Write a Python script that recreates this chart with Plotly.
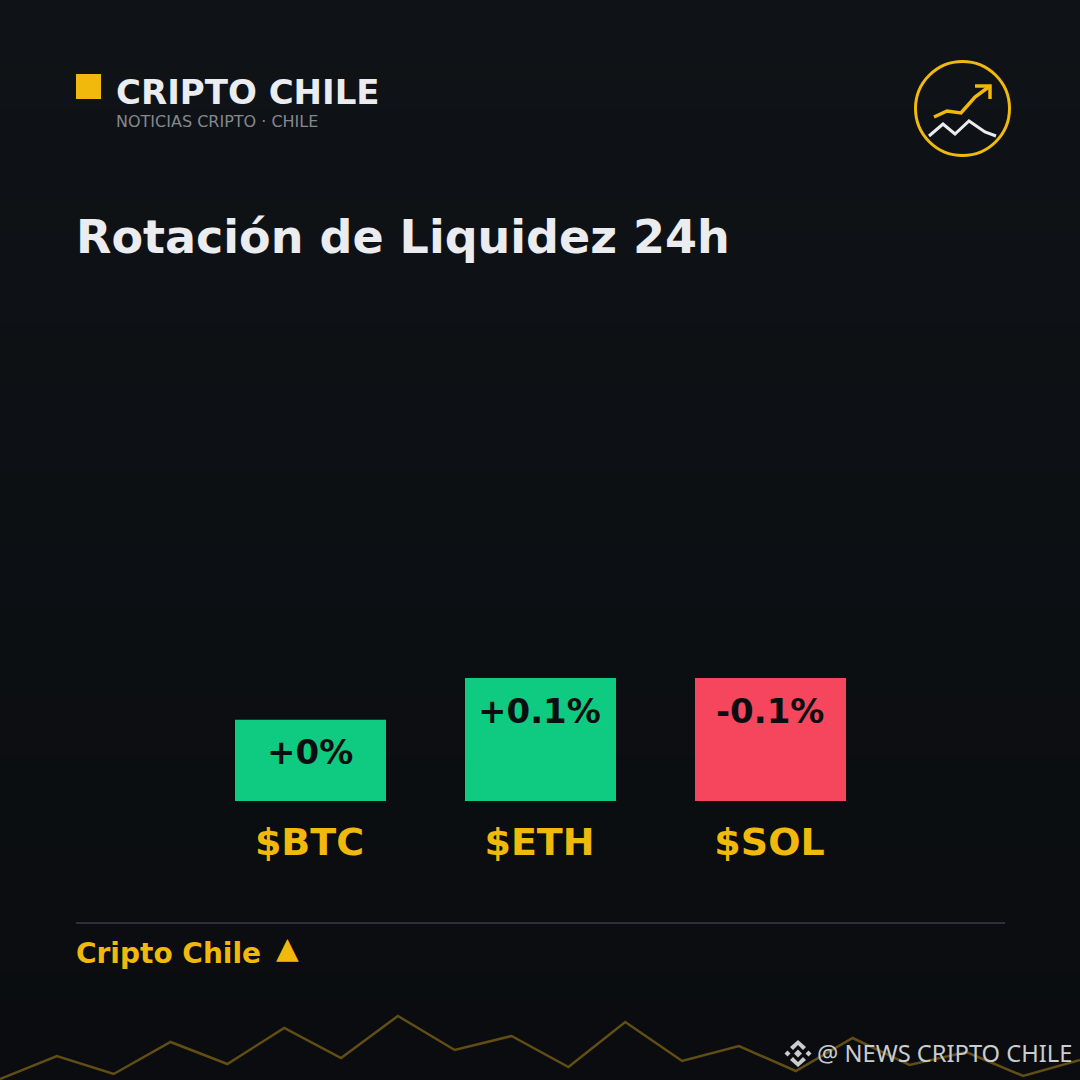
import plotly.graph_objects as go

W = 1080
H = 1080

# bars
tickers = ["$BTC", "$ETH", "$SOL"]
heights = [0.066, 0.1, 0.1]
changes = ["+0%", "+0.1%", "-0.1%"]
bar_colors = ["#0ecb81", "#0ecb81", "#f6465d"]

# line along the bottom edge
wave_index = list(range(20))
wave_values = [1, 24, 6, 38, 16, 52, 22, 64, 30, 44, 13, 58, 19, 34, 9, 42, 15, 28, 4, 20]

# background, top to bottom
bg_levels = [0, 1]
bg_scale = [[0, "#0a0c0f"], [1, "#0f1317"]]

GOLD = "#f0b90b"
DARK = "#0b0e11"
WHITE = "#eaecef"
MARK = "#c9ccd0"


def px(x):
    return x / W


def py(y):
    return 1 - y / H


def label(x, y, text, size, color, bold=False, family="DejaVu Sans", anchor="left"):
    fig.add_annotation(
        xref="paper", yref="paper", x=px(x), y=py(y), text=f"<b>{text}</b>" if bold else text,
        showarrow=False, xanchor=anchor, yanchor="middle", borderpad=0, borderwidth=0,
        font=dict(family=family, size=size, color=color),
    )


def poly(points, color, width):
    path = "M " + " L ".join(f"{px(x)} {py(y)}" for x, y in points)
    fig.add_shape(type="path", xref="paper", yref="paper", path=path,
                  line=dict(color=color, width=width), layer="above")


def solid(points, color):
    path = "M " + " L ".join(f"{px(x)} {py(y)}" for x, y in points) + " Z"
    fig.add_shape(type="path", xref="paper", yref="paper", path=path,
                  fillcolor=color, line=dict(width=0), layer="above")


fig = go.Figure()

# Background gradient
fig.add_trace(go.Heatmap(
    x=[0, 1], y=bg_levels, z=[[0, 0], [1, 1]], colorscale=bg_scale, showscale=False,
    zsmooth="best", hoverinfo="skip",
))

# Bottom wave
fig.add_trace(go.Scatter(
    x=wave_index, y=wave_values, mode="lines", xaxis="x2", yaxis="y2",
    line=dict(color="#624e14", width=2.5), hoverinfo="skip",
))

# Bars
fig.add_trace(go.Bar(
    x=tickers, y=heights, width=151 / 230, marker=dict(color=bar_colors, line=dict(width=0)),
    xaxis="x3", yaxis="y3", hoverinfo="skip",
))

fig.update_layout(
    width=W, height=H, margin=dict(l=0, r=0, t=0, b=0), showlegend=False,
    paper_bgcolor=DARK, plot_bgcolor="rgba(0,0,0,0)",
    xaxis=dict(domain=[0, 1], range=[0, 1], visible=False),
    yaxis=dict(domain=[0, 1], range=[0, 1], visible=False),
    xaxis2=dict(domain=[0, 1], range=[0, 19], visible=False, anchor="y2"),
    yaxis2=dict(domain=[0, 1], range=[0, H], visible=False, anchor="x2"),
    xaxis3=dict(
        domain=[px(194.5), px(884.5)], range=[-0.5, 2.5], type="category", showgrid=False, zeroline=False,
        ticks="outside", ticklen=7, tickcolor="rgba(0,0,0,0)", showline=False, anchor="y3",
        tickfont=dict(family="DejaVu Sans", size=38, color=GOLD),
        tickprefix="<b>", ticksuffix="</b>",
    ),
    yaxis3=dict(domain=[py(801), py(201)], range=[0, 0.1 * 600 / 123], visible=False, anchor="x3"),
)
# Bars sit one pixel right of the label column
fig.data[2].offset = -151 / 460 + 1 / 230

# Value labels sit inside the bars, near the top
for ticker, height, change in zip(tickers, heights, changes):
    fig.add_annotation(
        xref="x3", yref="y3", x=ticker, y=height, yshift=-32.5, text=f"<b>{change}</b>", showarrow=False,
        yanchor="middle", font=dict(family="DejaVu Sans", size=34, color=DARK),
    )

# Header
fig.add_shape(type="rect", xref="paper", yref="paper", x0=px(76), x1=px(101), y0=py(99), y1=py(74),
              fillcolor=GOLD, line=dict(width=0))
label(116, 92, "CRIPTO CHILE", 34, WHITE, bold=True)
label(116, 121, "NOTICIAS CRIPTO · CHILE", 16, "#85888d")
label(76, 237, "Rotación de Liquidez 24h", 46, WHITE, bold=True)

# Round logo
fig.add_shape(type="circle", xref="paper", yref="paper", x0=px(915.5), x1=px(1009.5), y0=py(155.5), y1=py(61.5),
              line=dict(color=GOLD, width=3), layer="above")
poly([(934, 117), (947, 111), (961, 113), (975, 97), (990, 86)], GOLD, 3.5)
poly([(975, 86), (990, 86), (990, 99)], GOLD, 3.5)
poly([(929, 136), (943, 124), (955, 134), (969, 121), (985, 132), (996, 136)], WHITE, 3)

# Footer
fig.add_shape(type="line", xref="paper", yref="paper", x0=px(76), x1=px(1005), y0=py(923), y1=py(923),
              line=dict(color="#2b3139", width=2))
label(76, 953, "Cripto Chile", 28, GOLD, bold=True)
label(276, 947.5, "▲", 29.5, GOLD, bold=True)

# Watermark
label(817, 1052.5, "@ NEWS CRIPTO CHILE", 23.7, MARK, family="Noto Sans")
for cy, flip in [(1047, 1), (1060, -1)]:
    solid([(790, cy), (798, cy - 7 * flip), (806, cy), (803, cy + 3 * flip), (798, cy - 2 * flip), (793, cy + 3 * flip)], MARK)
for cx, cy, r in [(787.5, 1053.5, 3), (808.5, 1053.5, 3), (798, 1053.5, 4)]:
    solid([(cx - r, cy), (cx, cy - r), (cx + r, cy), (cx, cy + r)], MARK)

fig.write_html("out.html", config=dict(displayModeBar=False), post_script="document.body.style.margin='0';")
